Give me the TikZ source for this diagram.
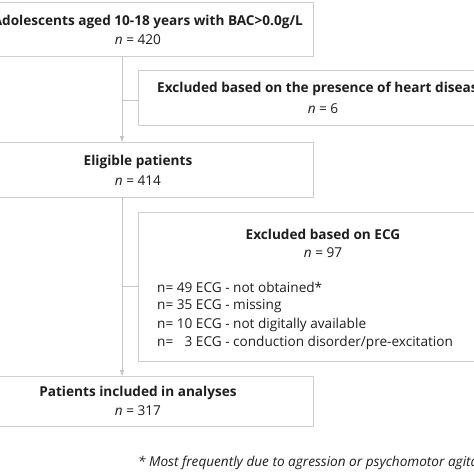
\documentclass[tikz,border=0pt]{standalone}
\usepackage{fontspec}
\setmainfont{Open Sans}
\usetikzlibrary{arrows.meta}
\definecolor{linegray}{HTML}{C6C6C6}
\definecolor{boxgray}{HTML}{CFCFCF}
\definecolor{txt}{HTML}{1E1E1E}
\tikzset{
  box/.style={draw=boxgray, line width=0.9pt, inner sep=0pt, fill=white},
  conn/.style={draw=linegray, line width=0.9pt},
  arr/.style={conn, -{Triangle[length=6pt,width=4pt]}},
  lbl/.style={text=txt, inner sep=0pt, font=\fontsize{13.6}{16}\selectfont},
  blbl/.style={lbl, font=\fontsize{13.6}{16}\selectfont\bfseries},
}
\begin{document}
\begin{tikzpicture}[x=1pt,y=-1pt]
\useasboundingbox (0,0) rectangle (474,474);
\clip (0,0) rectangle (474,474);
\fill[white] (0,0) rectangle (474,474);
% boxes
\node[box, minimum width=350pt, minimum height=53.5pt] (b1) at (138,29.25) {};
\node[box, minimum width=370pt, minimum height=55pt] (e1) at (323,97.5) {};
\node[box, minimum width=350pt, minimum height=55pt] (b2) at (138,169.5) {};
\node[box, minimum width=370pt, minimum height=149pt] (e2) at (323,286.5) {};
\node[box, minimum width=350pt, minimum height=50pt] (b3) at (138,401) {};
% connector coordinates
\coordinate (s1) at (122,56);
\coordinate (j1) at (122,100);
\coordinate (t2) at (122,142);
\coordinate (s2) at (122,197);
\coordinate (j2) at (122,286.5);
\coordinate (t3) at (122,376);
\draw[arr] (s1) -- (t2);
\draw[conn] (j1) -- (j1 -| e1.west);
\draw[arr] (s2) -- (t3);
\draw[conn] (j2) -- (e2.west);
% texts
\node[blbl, anchor=east] (b1t) at (303,22) {Adolescents aged 10-18 years with BAC>0.0g/L};
\node[lbl] (b1n) at (138,39.5) {\textit{n} = 420};
\node[blbl, anchor=west] (e1t) at (157,89) {Excluded based on the presence of heart disease};
\node[lbl] (e1n) at (323,108.5) {\textit{n} = 6};
\node[blbl] (b2t) at (138,162) {Eligible patients};
\node[lbl] (b2n) at (138,180.5) {\textit{n} = 414};
\node[blbl] (e2t) at (323,234) {Excluded based on ECG};
\node[lbl] (e2n) at (323,252.5) {\textit{n} = 97};
\node[lbl, anchor=west] (l1) at (157,287.5) {n= 49 ECG - not obtained*};
\node[lbl, anchor=west] (l2) at (157,306) {n= 35 ECG - missing};
\node[lbl, anchor=west] (l3) at (157,324.5) {n= 10 ECG - not digitally available};
\node[lbl, anchor=west] (l4) at (157,343) {n= \phantom{0}3 ECG - conduction disorder/pre-excitation};
\node[blbl] (b3t) at (138,393) {Patients included in analyses};
\node[lbl] (b3n) at (138,410.5) {\textit{n} = 317};
\node[lbl, anchor=west, font=\fontsize{13.6}{16}\selectfont\itshape] (fn) at (138,463) {* Most frequently due to agression or psychomotor agitation};
\end{tikzpicture}
\end{document}
